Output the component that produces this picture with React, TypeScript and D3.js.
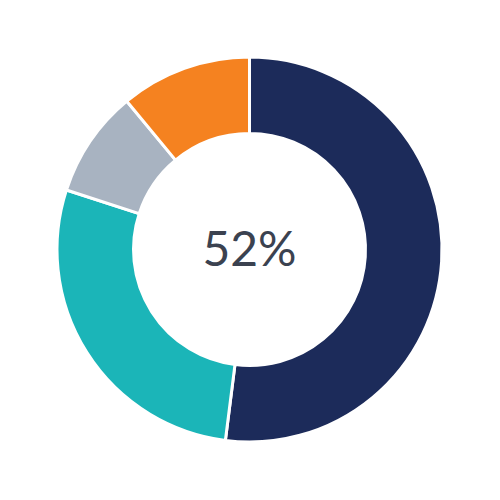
import { arc, pie } from "d3";

const labels = ["Navy", "Teal", "Gray", "Orange"];
const values = [52, 28, 9, 11];
const colors = ["#1c2b5a", "#1bb5b8", "#a8b3c1", "#f58220"];
const centerLabel = "52%";

const width = 500;
const height = 500;
const outerRadius = 192.5;
const innerRadius = 116;

export default function App() {
  const arcs = pie<number>().sort(null).value((d) => d)(values);
  const arcGen = arc<any>().innerRadius(innerRadius).outerRadius(outerRadius);

  return (
    <svg
      width={width}
      height={height}
      style={{ position: "absolute", left: 0, top: 0 }}
    >
      <rect width={width} height={height} fill="#fff" />
      <g transform={`translate(${width / 2 - 0.5},${height / 2 - 0.5})`}>
        {arcs.map((a, i) => (
          <path
            key={labels[i]}
            d={arcGen(a) ?? ""}
            fill={colors[i]}
            stroke="#fff"
            strokeWidth={3}
          />
        ))}
        <text
          textAnchor="middle"
          dy="0.35em"
          fontFamily="Lato"
          fontSize={48}
          fill="#3b4250"
        >
          {centerLabel}
        </text>
      </g>
    </svg>
  );
}
